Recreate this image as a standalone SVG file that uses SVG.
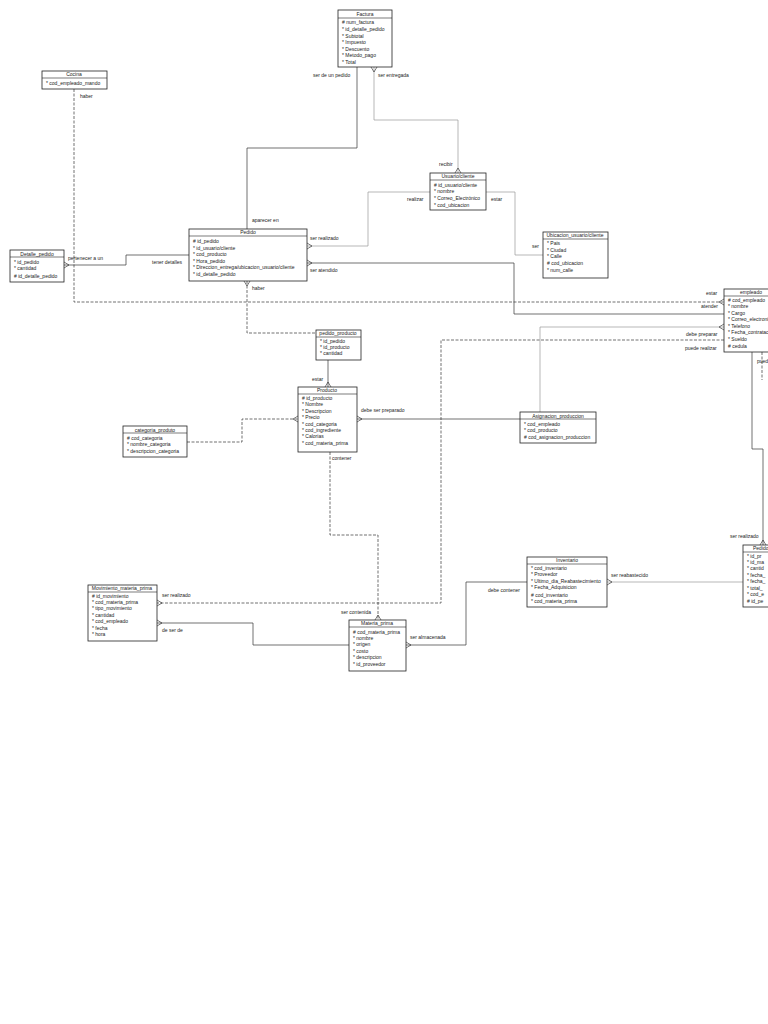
<svg xmlns="http://www.w3.org/2000/svg" width="768" height="1024" viewBox="0 0 768 1024">
<style>
text{font-family:"Liberation Sans",Arial,sans-serif;font-size:5px;fill:#222}
.h{text-anchor:middle}
.b{fill:#fff;stroke:#222;stroke-width:0.8}
.sep{stroke:#222;stroke-width:0.6}
.c path,.c line{fill:none;stroke:#333;stroke-width:0.7}
.c .d{stroke-dasharray:3,1.5}
.c .g{stroke:#999}
.cf{fill:none;stroke:#222;stroke-width:0.6}
</style>
<rect width="768" height="1024" fill="#fff"/>
<g class="c" id="connectors">
<path class="d" d="M74,89 V302 H724"/>
<path d="M64,265 H126 V255 H189"/>
<path d="M247,229 V148 H357 V67"/>
<path class="g" d="M374,67 V120 H458 V173"/>
<path class="g" d="M307,246 H368 V192 H430"/>
<path class="g" d="M486,192 H515 V255 H543"/>
<path d="M307,263 H514 V314 H724"/>
<path class="d" d="M247,281 V333 H316"/>
<path d="M328,360 V387"/>
<path class="d" d="M187,442 H242 V419 H298"/>
<path d="M357,419 H520"/>
<path class="g" d="M540,412 V327 H724"/>
<path class="d" d="M724,340 H441 V603 H157"/>
<path class="d" d="M330,452 V535 H378 V620"/>
<path d="M157,623 H253 V645 H349"/>
<path d="M406,645 H466 V582 H527"/>
<path class="g" d="M607,582 H743"/>
<path class="d" d="M762,352 V380"/>
<path d="M752,300 V449 H763 V545"/>
</g>
<g class="cf">
<path d="M374,72 L371,67 M374,72 L377,67"/>
<path d="M458,168 L455,173 M458,168 L461,173"/>
<path d="M247,286 L244,281 M247,286 L250,281"/>
<path d="M312,246 L307,243 M312,246 L307,249"/>
<path d="M312,263 L307,260 M312,263 L307,266"/>
<path d="M69,265 L64,262 M69,265 L64,268"/>
<path d="M719,302 L724,299 M719,302 L724,305"/>
<path d="M719,327 L724,324 M719,327 L724,330"/>
<path d="M328,382 L325,387 M328,382 L331,387"/>
<path d="M293,419 L298,416 M293,419 L298,422"/>
<path d="M362,419 L357,416 M362,419 L357,422"/>
<path d="M378,615 L375,620 M378,615 L381,620"/>
<path d="M411,645 L406,642 M411,645 L406,648"/>
<path d="M612,582 L607,579 M612,582 L607,585"/>
<path d="M162,603 L157,600 M162,603 L157,606"/>
<path d="M162,623 L157,620 M162,623 L157,626"/>
<path d="M763,540 L760,545 M763,540 L766,545"/>
</g>
<g id="labels">
<text x="80" y="98">haber</text>
<text x="68" y="260">pertenecer a un</text>
<text x="152" y="264">tener detalles</text>
<text x="252" y="222">aparecer en</text>
<text x="313" y="77">ser de un pedido</text>
<text x="378" y="77">ser entregada</text>
<text x="439" y="166">recibir</text>
<text x="310" y="240">ser realizado</text>
<text x="407" y="201">realizar</text>
<text x="491" y="201">estar</text>
<text x="532" y="248">ser</text>
<text x="310" y="272">ser atendido</text>
<text x="252" y="290">haber</text>
<text x="706" y="295">estar</text>
<text x="701" y="308">atender</text>
<text x="686" y="336">debe preparar</text>
<text x="685" y="350">puede realizar</text>
<text x="757" y="363">pued</text>
<text x="312" y="381">estar</text>
<text x="361" y="412">debe ser preparado</text>
<text x="332" y="460">contener</text>
<text x="730" y="538">ser realizado</text>
<text x="611" y="577">ser reabastecido</text>
<text x="488" y="592">debe contener</text>
<text x="162" y="597">ser realizado</text>
<text x="162" y="632">de ser de</text>
<text x="341" y="614">ser contenida</text>
<text x="410" y="639">ser almacenada</text>
</g>
<g id="Factura"><rect class="b" x="338" y="10" width="54" height="57"/><line class="sep" x1="338" y1="18" x2="392" y2="18"/><text class="h" x="365" y="16">Factura</text>
<text x="342" y="24"># num_factura</text><text x="342" y="31">* id_detalle_pedido</text><text x="342" y="38">* Subtotal</text><text x="342" y="44">* Impuesto</text><text x="342" y="51">* Descuento</text><text x="342" y="57">* Metodo_pago</text><text x="342" y="64">* Total</text></g>
<g id="Cocina"><rect class="b" x="42" y="71" width="65" height="18"/><line class="sep" x1="42" y1="78" x2="107" y2="78"/><text class="h" x="74" y="76">Cocina</text><text x="46" y="85">* cod_empleado_mando</text></g>
<g id="Detalle_pedido"><rect class="b" x="10" y="250" width="54" height="32"/><line class="sep" x1="10" y1="257" x2="64" y2="257"/><text class="h" x="37" y="256">Detalle_pedido</text>
<text x="14" y="264">* id_pedido</text><text x="14" y="270">* cantidad</text><text x="14" y="278"># id_detalle_pedido</text></g>
<g id="Pedido"><rect class="b" x="189" y="229" width="118" height="52"/><line class="sep" x1="189" y1="236" x2="307" y2="236"/><text class="h" x="248" y="234">Pedido</text>
<text x="193" y="243"># id_pedido</text><text x="193" y="250">* id_usuario/cliente</text><text x="193" y="256">* cod_producto</text><text x="193" y="263">* Hora_pedido</text><text x="193" y="269">* Direccion_entrega/ubicacion_usuario/cliente</text><text x="193" y="276">* id_detalle_pedido</text></g>
<g id="Usuario_cliente"><rect class="b" x="430" y="173" width="56" height="37"/><line class="sep" x1="430" y1="180" x2="486" y2="180"/><text class="h" x="458" y="178">Usuario/cliente</text>
<text x="434" y="187"># id_usuario/cliente</text><text x="434" y="193">* nombre</text><text x="434" y="200">* Correo_Electrónico</text><text x="434" y="207">* cod_ubicacion</text></g>
<g id="Ubicacion"><rect class="b" x="543" y="232" width="65" height="46"/><line class="sep" x1="543" y1="239" x2="608" y2="239"/><text class="h" x="575" y="237">Ubicacion_usuario/cliente</text>
<text x="547" y="245">* Pais</text><text x="547" y="252">* Ciudad</text><text x="547" y="258">* Calle</text><text x="547" y="265"># cod_ubicacion</text><text x="547" y="272">* num_calle</text></g>
<g id="empleado"><rect class="b" x="724" y="289" width="80" height="63"/><line class="sep" x1="724" y1="296" x2="804" y2="296"/><text x="740" y="294">empleado</text>
<text x="728" y="302"># cod_empleado</text><text x="728" y="308">* nombre</text><text x="728" y="315">* Cargo</text><text x="728" y="321">* Correo_electronico</text><text x="728" y="328">* Telefono</text><text x="728" y="334">* Fecha_contratacion</text><text x="728" y="341">* Sueldo</text><text x="728" y="348"># cedula</text></g>
<g id="pedido_producto"><rect class="b" x="316" y="330" width="45" height="30"/><line class="sep" x1="316" y1="337" x2="361" y2="337"/><text class="h" x="338" y="335">pedido_producto</text>
<text x="320" y="343">* id_pedido</text><text x="320" y="349">* id_producto</text><text x="320" y="355">* cantidad</text></g>
<g id="Producto"><rect class="b" x="298" y="387" width="59" height="65"/><line class="sep" x1="298" y1="394" x2="357" y2="394"/><text class="h" x="327" y="392">Producto</text>
<text x="302" y="400"># id_producto</text><text x="302" y="406">* Nombre</text><text x="302" y="413">* Descripcion</text><text x="302" y="419">* Precio</text><text x="302" y="426">* cod_categoria</text><text x="302" y="432">* cod_ingrediente</text><text x="302" y="438">* Calorias</text><text x="302" y="445">* cod_materia_prima</text></g>
<g id="categoria_produto"><rect class="b" x="123" y="426" width="64" height="31"/><line class="sep" x1="123" y1="433" x2="187" y2="433"/><text class="h" x="155" y="432">categoria_produto</text>
<text x="127" y="440"># cod_categoria</text><text x="127" y="446">* nombre_categoria</text><text x="127" y="453">* descripcion_categoria</text></g>
<g id="Asignacion_produccion"><rect class="b" x="520" y="412" width="76" height="31"/><line class="sep" x1="520" y1="419" x2="596" y2="419"/><text class="h" x="558" y="418">Asignacion_produccion</text>
<text x="524" y="426">* cod_empleado</text><text x="524" y="432">* cod_producto</text><text x="524" y="439"># cod_asignacion_produccion</text></g>
<g id="Inventario"><rect class="b" x="527" y="557" width="80" height="50"/><line class="sep" x1="527" y1="564" x2="607" y2="564"/><text class="h" x="567" y="562">Inventario</text>
<text x="531" y="570">* cod_inventario</text><text x="531" y="576">* Proveedor</text><text x="531" y="583">* Ultimo_dia_Reabastecimiento</text><text x="531" y="589">* Fecha_Adquisicion</text><text x="531" y="597"># cod_inventario</text><text x="531" y="603">* cod_materia_prima</text></g>
<g id="Pedido_materia"><rect class="b" x="743" y="545" width="60" height="62"/><line class="sep" x1="743" y1="552" x2="803" y2="552"/><text x="753" y="550">Pedido</text>
<text x="747" y="558">* id_pr</text><text x="747" y="564">* id_ma</text><text x="747" y="570">* cantid</text><text x="747" y="577">* fecha_</text><text x="747" y="583">* fecha_</text><text x="747" y="590">* total_</text><text x="747" y="596">* cod_e</text><text x="747" y="603"># id_pe</text></g>
<g id="Movimiento_materia_prima"><rect class="b" x="88" y="585" width="69" height="56"/><line class="sep" x1="88" y1="592" x2="157" y2="592"/><text class="h" x="122" y="590">Movimiento_materia_prima</text>
<text x="92" y="598"># id_movimiento</text><text x="92" y="604">* cod_materia_prima</text><text x="92" y="610">* tipo_movimiento</text><text x="92" y="617">* cantidad</text><text x="92" y="623">* cod_empleado</text><text x="92" y="630">* fecha</text><text x="92" y="636">* hora</text></g>
<g id="Materia_prima"><rect class="b" x="349" y="620" width="57" height="51"/><line class="sep" x1="349" y1="627" x2="406" y2="627"/><text class="h" x="377" y="625">Materia_prima</text>
<text x="353" y="634"># cod_materia_prima</text><text x="353" y="640">* nombre</text><text x="353" y="646">* origen</text><text x="353" y="653">* costo</text><text x="353" y="659">* descripcion</text><text x="353" y="666">* id_proveedor</text></g>
</svg>
